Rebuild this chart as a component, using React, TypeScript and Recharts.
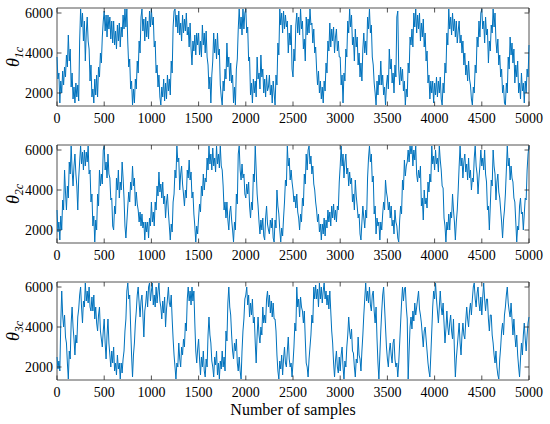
import React from 'react';
import { CartesianGrid, Line, LineChart, XAxis, YAxis } from 'recharts';

// trace values, one every 10 samples (rows of 250 samples)
const STEP = 10;

const theta1 = [
  3800, 2700, 3000, 1500, 2600, 2000, 3100, 2400, 3300, 2800, 3900, 3300, 4900, 3600, 4200, 2300, 3000, 1700, 2300, 1500, 2500, 1800, 2400, 1600, 4600,
  6200, 5300, 6000, 4600, 5600, 3600, 5000, 5800, 4600, 4200, 2600, 3400, 1800, 2200, 1500, 2700, 1900, 2900, 1800, 3300, 2800, 4000, 3500, 4800, 5600,
  6100, 5100, 5900, 4800, 5900, 5200, 5800, 4700, 5600, 4500, 5600, 4400, 5100, 4200, 5400, 4600, 5500, 4300, 5300, 4800, 5900, 5200, 6200, 5300, 6200,
  4500, 3300, 3700, 2200, 2600, 1400, 2200, 1500, 2700, 2200, 3600, 3000, 4600, 4000, 5800, 6200, 5100, 5700, 4600, 5800, 4800, 5600, 4700, 6100, 5300,
  6200, 5400, 5800, 4300, 4600, 3000, 3400, 2300, 2900, 1800, 1400, 2300, 1800, 2700, 1600, 2500, 1700, 2900, 2100, 2700, 1900, 3600, 3000, 5300, 6100,
  6200, 5300, 5900, 5000, 6100, 4900, 5500, 4600, 5900, 5000, 5700, 5100, 6000, 4900, 5300, 4300, 5500, 4200, 3400, 4600, 4100, 4900, 3900, 5000, 4400,
  5000, 3900, 4600, 3800, 5400, 4400, 5000, 4000, 5100, 3800, 3400, 2200, 2800, 1500, 2900, 3600, 5000, 4000, 4700, 3700, 5000, 3900, 4200, 2400, 1800,
  1400, 2600, 2100, 3200, 2700, 4500, 3300, 3800, 2600, 3500, 2500, 2900, 1500, 2300, 1400, 3200, 3700, 5200, 6200, 5200, 5800, 4900, 6200, 5200, 6000,
  6200, 5000, 5300, 3600, 3800, 1900, 2500, 1500, 2700, 2000, 2600, 1800, 3800, 2700, 3000, 2200, 3900, 2800, 3200, 2000, 2700, 1800, 2900, 2100, 2300,
  2900, 1900, 2400, 1500, 2600, 2000, 1400, 2900, 2400, 4500, 3900, 6200, 5400, 6000, 5000, 6100, 5200, 5900, 5300, 5600, 4000, 5000, 4400, 5400, 3200,
  2800, 4200, 3600, 5400, 6000, 5000, 5800, 4900, 6200, 5200, 5600, 4200, 4700, 3600, 5800, 4900, 5700, 5000, 6200, 5400, 5500, 4500, 5200, 4000, 4300,
  3200, 2400, 3100, 2000, 2600, 1700, 2300, 1500, 2600, 2100, 3500, 3000, 4600, 4100, 5500, 4300, 5200, 4600, 5300, 4000, 4800, 5200, 4100, 4600, 3800,
  3800, 2400, 2900, 1500, 3000, 2600, 4200, 3800, 5600, 5000, 6200, 5300, 5900, 4400, 4800, 3600, 5200, 4300, 4800, 3400, 4000, 2800, 3500, 2600, 4200,
  5000, 4000, 4600, 3900, 5800, 5200, 6200, 5000, 5400, 3800, 3400, 2500, 2000, 1400, 2600, 1900, 2900, 2400, 3600, 2400, 2900, 1900, 2300, 1400, 2400,
  2900, 2200, 4200, 3200, 3700, 2500, 3000, 2000, 3400, 2800, 5800, 6100, 3200, 2400, 3300, 2600, 3200, 2100, 2600, 1400, 2200, 1800, 3500, 3000, 4800,
  4400, 5200, 4300, 6000, 5300, 6200, 5000, 5900, 5200, 6000, 4600, 5500, 4800, 5700, 4300, 5000, 3600, 4100, 2500, 2900, 1700, 2600, 2000, 2600, 1500,
  2500, 1900, 2800, 1800, 2600, 2000, 2800, 1700, 1400, 2500, 2000, 3500, 3000, 5000, 4400, 6200, 5200, 5800, 4900, 6000, 5100, 5700, 4800, 5600, 4500,
  5100, 5600, 4500, 4900, 4000, 4600, 3400, 4000, 2900, 3400, 2600, 3600, 2700, 2400, 1700, 1400, 2300, 2000, 3400, 3000, 4800, 4300, 5600, 4800, 6000,
  6200, 5200, 5600, 4500, 5800, 4900, 5200, 3500, 4600, 4100, 5400, 5000, 6200, 5300, 6000, 4600, 4000, 4700, 3400, 3900, 2800, 3200, 2000, 2400, 1500,
  1400, 2500, 2000, 3800, 3200, 4800, 3900, 4500, 3500, 4200, 2500, 3400, 2800, 3600, 2000, 2500, 1700, 3000, 2100, 2500, 1500, 2600, 2000, 3200, 2800,
  4400,
];

const theta2 = [
  3000, 1900, 2400, 1500, 2700, 2000, 3500, 3000, 5000, 3900, 3000, 4200, 3600, 5400, 4800, 6200, 5000, 4200, 5200, 5800, 4800, 4200, 3000, 4600, 5400,
  6200, 5300, 5900, 5000, 6000, 5200, 5900, 5400, 6200, 4800, 5000, 3400, 3800, 2200, 2700, 1400, 2500, 2000, 3800, 3200, 5000, 4200, 4800, 4300, 6000,
  6200, 5000, 5400, 4600, 5800, 4800, 4600, 3500, 3600, 2200, 2000, 3200, 2800, 4600, 4000, 5000, 3600, 4400, 4000, 5400, 4600, 3600, 2200, 1600, 2400,
  3200, 3900, 3400, 4400, 4000, 5200, 4200, 4600, 3200, 3900, 3300, 3000, 2400, 2900, 2200, 2800, 2100, 2400, 1500, 2400, 1900, 2400, 1600, 2600, 2200,
  3400, 2400, 2900, 2200, 3400, 3000, 4200, 3700, 4900, 3900, 4300, 3600, 4400, 3300, 3700, 2600, 3400, 3800, 2900, 2200, 1500, 2300, 1900, 3400, 3800,
  5000, 4600, 6200, 5400, 5600, 4000, 4800, 5200, 4300, 3800, 3200, 4000, 3600, 5000, 4600, 5500, 4500, 4900, 3600, 3900, 2800, 2200, 1400, 2200, 1800,
  2600, 3300, 2900, 4200, 3700, 4800, 4000, 4600, 4400, 5600, 5000, 6200, 5300, 5800, 5000, 6100, 5200, 5600, 4900, 6200, 5300, 5800, 5100, 6200, 5200,
  5000, 4200, 3000, 3400, 2600, 3400, 2500, 2000, 2900, 3200, 2500, 2000, 1400, 2400, 2000, 3800, 3300, 5800, 6200, 5000, 4500, 5300, 4600, 4800, 3800,
  3600, 4300, 3800, 4400, 3200, 2600, 3400, 3000, 4800, 4400, 6200, 5000, 3800, 3200, 2400, 1800, 2500, 2000, 2600, 1700, 1500, 2600, 3200, 2300, 2000,
  1800, 2500, 2100, 2600, 1600, 1400, 2500, 2100, 4000, 3200, 2800, 2000, 1400, 2100, 1700, 2600, 3400, 4500, 4200, 6200, 5200, 5600, 4500, 5000, 4400,
  4000, 3400, 3700, 3100, 3800, 2900, 2600, 2000, 2800, 2400, 3600, 3200, 4800, 4300, 5800, 5000, 6000, 6200, 5300, 5700, 4800, 5200, 4300, 4000, 3400,
  3000, 2400, 2800, 1900, 2300, 1500, 2300, 1800, 2600, 1700, 2500, 2100, 3000, 2400, 2900, 2200, 3200, 2600, 3300, 2500, 3000, 2400, 3200, 3000, 4400,
  5200, 6200, 5200, 5800, 4600, 5400, 5800, 4800, 5100, 4200, 4900, 4300, 4600, 3400, 3800, 3000, 4500, 3700, 3200, 2600, 2800, 1800, 1500, 2400, 3200,
  2600, 2100, 3000, 2600, 4600, 5600, 6200, 5400, 5800, 4400, 4700, 2800, 3200, 1800, 2600, 2200, 2400, 1500, 2400, 2000, 2800, 3400, 3000, 4500, 3900,
  3600, 3000, 3400, 2600, 3200, 2200, 2500, 1800, 3000, 2400, 2200, 1600, 1400, 2500, 3200, 2800, 4500, 4000, 5500, 4700, 5200, 5400, 6000, 5400, 6200,
  5800, 6200, 5200, 6000, 5500, 6200, 4800, 4400, 5000, 4600, 5200, 3200, 3600, 2500, 4000, 3300, 3600, 3100, 4400, 3900, 4800, 4400, 6200, 5300, 5700,
  5000, 6000, 5300, 5600, 4900, 6200, 5500, 5000, 4200, 4100, 2600, 2200, 1400, 2400, 2000, 2800, 2000, 2900, 2600, 3800, 3000, 2400, 1500, 2400, 3000,
  4000, 5200, 6200, 5200, 5600, 4600, 5400, 5800, 4900, 5300, 4500, 5600, 4600, 5000, 4000, 4600, 4400, 5600, 6200, 5200, 4800, 3800, 4600, 5200, 6000,
  5200, 5600, 5000, 6000, 4800, 4400, 3000, 3200, 2000, 3200, 4500, 4200, 6000, 5200, 4800, 3500, 4400, 4800, 3900, 3600, 3000, 2400, 1600, 2500, 3000,
  3800, 5000, 6200, 5200, 5600, 4500, 5200, 4600, 4400, 3600, 3400, 2400, 1400, 2200, 2000, 3200, 3600, 2800, 2900, 2000, 2800, 3600, 3500, 5000, 5800,
  6200,
];

const theta3 = [
  2500, 1900, 2300, 1800, 4200, 5800, 4600, 4000, 4600, 3500, 3200, 2200, 1400, 2800, 2400, 4200, 5000, 4000, 3400, 2600, 3600, 3200, 4500, 4900, 5600,
  6000, 5000, 4200, 5300, 5000, 6200, 5300, 5800, 5200, 6000, 5000, 4800, 5500, 4800, 5600, 4400, 5000, 4200, 3800, 4600, 5000, 3800, 3400, 3000, 3800,
  4400, 3200, 2400, 3600, 4400, 3200, 2600, 2000, 2800, 2200, 3000, 1800, 2200, 1600, 2600, 1900, 2200, 1400, 2200, 1700, 2400, 2800, 3800, 4400, 5800,
  6200, 5400, 5600, 4000, 2600, 1500, 2600, 3200, 4200, 4800, 5600, 6000, 5200, 4500, 5300, 5600, 4600, 3500, 4800, 5200, 5800, 5000, 6000, 6200, 5300,
  5800, 6200, 5100, 5600, 5000, 6000, 5200, 5800, 6200, 5300, 5000, 4400, 5300, 4700, 5500, 4000, 4900, 5400, 6000, 5200, 5000, 5600, 4400, 3400, 2600,
  2000, 1400, 2200, 2000, 3200, 2400, 2000, 3000, 2600, 3400, 3000, 4200, 3800, 5400, 6000, 5300, 5800, 5100, 6000, 5300, 5800, 4200, 2800, 2200, 2900,
  3400, 2400, 1600, 2500, 2000, 2800, 1800, 1500, 2400, 2000, 3600, 4500, 3600, 3200, 2300, 2000, 1500, 2500, 2100, 2800, 1600, 2200, 1400, 2300, 1900,
  2800, 2000, 2500, 1800, 3800, 3300, 5200, 6000, 5000, 4600, 3600, 2800, 2400, 3200, 2800, 3400, 2200, 1800, 2500, 1800, 1400, 2800, 3800, 4400, 5400,
  5600, 6000, 5100, 5600, 4500, 5200, 4600, 5400, 4200, 4500, 3200, 2200, 3600, 4500, 3600, 3200, 4000, 3600, 5000, 4200, 4600, 4200, 5400, 5800, 5000,
  5600, 4700, 5300, 4500, 5200, 4400, 4400, 3800, 2600, 1800, 1400, 2300, 1900, 2600, 1600, 2400, 3000, 2200, 2000, 2800, 3500, 2400, 2000, 2200, 1500,
  2200, 3000, 4200, 3800, 6000, 5000, 5400, 4500, 5500, 5000, 4800, 4200, 4800, 3400, 2200, 2000, 1500, 2400, 3000, 3600, 4600, 4200, 6000, 5400, 6100,
  5400, 5900, 5000, 6200, 5400, 6000, 5200, 5800, 6200, 5400, 5800, 5100, 5600, 4900, 5800, 4800, 3800, 3200, 2200, 1500, 2300, 2800, 2000, 1700, 2500,
  1800, 2600, 3000, 2000, 1400, 2300, 2000, 3000, 3600, 4500, 3800, 3400, 3900, 2800, 2700, 2000, 1500, 2400, 2200, 3500, 2600, 2400, 1800, 2800, 3600,
  4600, 5400, 6200, 5300, 5800, 5200, 6000, 5100, 4800, 5600, 5800, 4800, 4200, 5000, 3400, 2200, 1400, 2600, 3800, 4800, 5600, 6000, 5000, 4000, 3000,
  2400, 2000, 2800, 3200, 2600, 2200, 3200, 3400, 2400, 2000, 2200, 1500, 2200, 3200, 4200, 5200, 6000, 5300, 5900, 6000, 5000, 4400, 1400, 2800, 4000,
  4500, 3900, 4800, 4300, 5200, 4600, 5000, 5400, 5800, 4900, 4600, 4200, 3600, 3000, 3800, 4000, 3400, 2800, 2200, 1800, 1500, 2600, 3800, 5000, 5800,
  5400, 6200, 5400, 4800, 4200, 5000, 5800, 5000, 4600, 5200, 4200, 3200, 3900, 4800, 4000, 3600, 4200, 4600, 3800, 3400, 4400, 2800, 1500, 2400, 3000,
  3600, 4200, 3200, 2600, 3600, 4200, 3600, 3400, 4300, 5000, 4400, 4000, 4800, 5200, 4600, 5400, 6000, 6200, 5400, 5000, 5700, 6000, 5200, 4800, 5500,
  4600, 5500, 6200, 5400, 4800, 5400, 5400, 4400, 3800, 4600, 4600, 3600, 3200, 2600, 2200, 2800, 2000, 1600, 1400, 2400, 3000, 3800, 4200, 3600, 4600,
  5000, 5600, 6000, 5200, 4800, 4500, 5200, 4400, 3600, 4400, 3600, 3000, 3600, 2600, 2000, 1500, 2400, 3200, 2600, 3600, 4200, 3400, 2800, 3600, 4200,
  4500,
];

const xTicks = [0, 500, 1000, 1500, 2000, 2500, 3000, 3500, 4000, 4500, 5000];
const yTicks = [2000, 4000, 6000];
const yDomain = [1350, 6250];

const BLUE = '#0072BD';
const AXIS = '#262626';
const FONT = '"Liberation Serif", "Times New Roman", serif';

const W = 550;
const LEFT = 57;
const RIGHT = 529;
const TOP = 5;
const PLOT_H = 98;
const BOTTOM = TOP + PLOT_H;
const TICK = 4.5;

const toRows = (vals: number[]) => vals.map((v, i) => ({ s: i * STEP, v }));

function XTick({ x, payload }: any) {
  return (
    <g>
      <line x1={x} x2={x} y1={BOTTOM} y2={BOTTOM - TICK} stroke={AXIS} strokeWidth={0.8} />
      <line x1={x} x2={x} y1={TOP} y2={TOP + TICK} stroke={AXIS} strokeWidth={0.8} />
      <text x={x} y={BOTTOM + 17} textAnchor="middle" fontSize={14} fontFamily={FONT} fill="#000">
        {payload.value}
      </text>
    </g>
  );
}

function YTick({ y, payload }: any) {
  return (
    <g>
      <line x1={LEFT} x2={LEFT + TICK} y1={y} y2={y} stroke={AXIS} strokeWidth={0.8} />
      <line x1={RIGHT} x2={RIGHT - TICK} y1={y} y2={y} stroke={AXIS} strokeWidth={0.8} />
      <text x={LEFT - 4} y={y + 5} textAnchor="end" fontSize={14} fontFamily={FONT} fill="#000">
        {payload.value}
      </text>
    </g>
  );
}

function Panel({ vals, sub, top, xLabel }: { vals: number[]; sub: string; top: number; xLabel?: boolean }) {
  const xh = xLabel ? 50 : 32;
  const h = TOP + PLOT_H + xh;
  const cy = TOP + PLOT_H / 2;
  return (
    <div style={{ position: 'absolute', left: 0, top }}>
      <LineChart width={W} height={h} data={toRows(vals)} margin={{ top: TOP, right: W - RIGHT, left: 0, bottom: 0 }}>
        <CartesianGrid
          horizontalPoints={[TOP, BOTTOM]}
          verticalPoints={[LEFT, RIGHT]}
          stroke={AXIS}
          strokeWidth={0.8}
          fill="none"
        />
        <XAxis
          dataKey="s"
          type="number"
          domain={[0, 5000]}
          ticks={xTicks}
          tick={<XTick />}
          tickLine={false}
          height={xh}
          axisLine={false}
          interval={0}
          label={
            xLabel
              ? {
                  content: () => (
                    <text x={(LEFT + RIGHT) / 2} y={BOTTOM + 35} textAnchor="middle" fontSize={16} fontFamily={FONT} fill="#000">
                      Number of samples
                    </text>
                  ),
                }
              : undefined
          }
        />
        <YAxis
          type="number"
          domain={yDomain}
          ticks={yTicks}
          allowDataOverflow
          tick={<YTick />}
          tickLine={false}
          width={LEFT}
          axisLine={false}
          interval={0}
          label={{
            content: () => (
              <text transform={`translate(19, ${cy}) rotate(-90)`} textAnchor="middle" fontFamily={FONT} fill="#000">
                <tspan fontSize={18} fontStyle="italic">θ</tspan>
                <tspan fontSize={12} fontStyle="italic" dy={4}>{sub}</tspan>
              </text>
            ),
          }}
        />
        <Line dataKey="v" stroke={BLUE} strokeWidth={1} dot={false} isAnimationActive={false} />
      </LineChart>
    </div>
  );
}

export default function App() {
  return (
    <div style={{ position: 'absolute', left: 0, top: 0, width: W, height: 424, background: '#fff' }}>
      <Panel vals={theta1} sub="1c" top={3} />
      <Panel vals={theta2} sub="2c" top={140} />
      <Panel vals={theta3} sub="3c" top={277} xLabel />
    </div>
  );
}
